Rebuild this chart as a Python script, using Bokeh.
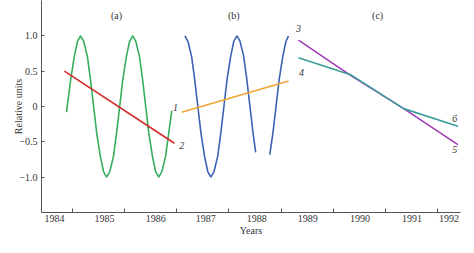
import numpy as np
from bokeh.plotting import figure
from bokeh.models import FixedTicker, CustomJSTickFormatter, Range1d
from bokeh.core.properties import value
from bokeh.embed import file_html
from bokeh.resources import INLINE

# ---- data ----
green_x = [1984.23, 1984.31, 1984.38, 1984.44, 1984.50, 1984.56, 1984.63, 1984.69, 1984.75,
           1984.81, 1984.88, 1984.94, 1985.00, 1985.06, 1985.13, 1985.19, 1985.25, 1985.31,
           1985.38, 1985.44, 1985.50, 1985.56, 1985.63, 1985.69, 1985.75, 1985.81, 1985.88,
           1985.94, 1986.00, 1986.06, 1986.13, 1986.19, 1986.25]
green_y = [-0.08, 0.38, 0.71, 0.92, 1.00, 0.92, 0.71, 0.38, 0.00,
           -0.38, -0.71, -0.92, -1.00, -0.92, -0.71, -0.38, 0.00, 0.38,
           0.71, 0.92, 1.00, 0.92, 0.71, 0.38, 0.00, -0.38, -0.71,
           -0.92, -1.00, -0.92, -0.71, -0.38, -0.06]

red_x = [1984.19, 1986.30]
red_y = [0.50, -0.52]

blue_x = [1986.50, 1986.56, 1986.63, 1986.69, 1986.75, 1986.81, 1986.88, 1986.94, 1987.00,
          1987.06, 1987.13, 1987.19, 1987.25, 1987.31, 1987.38, 1987.44, 1987.50, 1987.56,
          1987.63, 1987.69, 1987.75, 1987.81, 1987.86, float("nan"),
          1988.13, 1988.19, 1988.25, 1988.31, 1988.38, 1988.44, 1988.49]
blue_y = [1.00, 0.92, 0.71, 0.38, 0.00, -0.38, -0.71, -0.92, -1.00,
          -0.92, -0.71, -0.38, 0.00, 0.38, 0.71, 0.92, 1.00, 0.92,
          0.71, 0.38, 0.00, -0.38, -0.65, float("nan"),
          -0.68, -0.38, 0.00, 0.38, 0.71, 0.92, 1.00]

orange_x = [1986.44, 1988.49]
orange_y = [-0.08, 0.36]

purple_x = [1988.68, 1989.68, 1990.70, 1991.74]
purple_y = [0.94, 0.44, -0.03, -0.54]

teal_x = [1988.68, 1989.68, 1990.70, 1991.74]
teal_y = [0.69, 0.45, -0.03, -0.28]

curve_labels = ["1", "2", "3", "4", "6", "5"]
curve_label_x = [1986.32, 1986.44, 1988.68, 1988.74, 1991.68, 1991.68]
curve_label_y = [-0.01, -0.55, 1.11, 0.48, -0.17, -0.61]

panel_labels = ["(a)", "(b)", "(c)"]
panel_label_x = [1985.19, 1987.44, 1990.20]
panel_label_y = [1.29, 1.29, 1.29]

year_labels = ["1984", "1985", "1986", "1987", "1988", "1989", "1990", "1991", "1992"]
year_label_pos = [1984.00, 1984.96, 1985.94, 1986.90, 1987.88, 1988.86, 1989.86, 1990.86, 1991.57]
year_tick_pos = [1984.35, 1985.35, 1986.34, 1987.34, 1988.36, 1989.36, 1990.35, 1991.35]

y_ticks = [-1.0, -0.5, 0.0, 0.5, 1.0]
y_tick_labels = ["\u22121.0", "\u22120.5", "0", "0.5", "1.0"]

# ---- figure ----
SERIF = "Liberation Serif"
TXT = "#333333"
p = figure(width=474, height=253, output_backend="svg", toolbar_location=None,
           x_range=Range1d(1983.75, 1991.79), y_range=Range1d(-1.5, 1.5),
           min_border_left=41, min_border_right=14, min_border_top=0, min_border_bottom=41)
p.outline_line_color = None
p.grid.visible = False
p.background_fill_color = "white"
p.border_fill_color = "white"

p.line(green_x, green_y, line_color="#35ad5c", line_width=1.6)
p.line(red_x, red_y, line_color="#d42a2a", line_width=1.6)
p.line(np.array(blue_x), np.array(blue_y), line_color="#3b62b3", line_width=1.6)
p.line(orange_x, orange_y, line_color="#f0a533", line_width=1.6)
p.line(purple_x, purple_y, line_color="#a23db5", line_width=1.6)
p.line(teal_x, teal_y, line_color="#3a9e9c", line_width=1.6)

p.text(x=curve_label_x, y=curve_label_y, text=curve_labels,
       text_font=value(SERIF), text_font_style="italic", text_font_size="10px",
       text_color=TXT, text_align="center", text_baseline="middle")
p.text(x=panel_label_x, y=panel_label_y, text=panel_labels,
       text_font=value(SERIF), text_font_size="10px",
       text_color=TXT, text_align="center", text_baseline="middle")

# x axis
xa = p.xaxis[0]
xa.ticker = FixedTicker(ticks=year_label_pos, minor_ticks=year_tick_pos)
xa.formatter = CustomJSTickFormatter(args=dict(labels=year_labels), code="return labels[index];")
xa.major_tick_in = 0
xa.major_tick_out = 0
xa.minor_tick_in = 4
xa.minor_tick_out = 0
xa.minor_tick_line_color = "#555555"
xa.axis_line_color = "#555555"
xa.major_label_standoff = 2
xa.major_label_text_font = SERIF
xa.major_label_text_font_size = "10px"
xa.major_label_text_color = TXT
xa.axis_label = "Years"
xa.axis_label_standoff = 0
xa.axis_label_text_font = SERIF
xa.axis_label_text_font_size = "10px"
xa.axis_label_text_font_style = "normal"
xa.axis_label_text_color = TXT

# y axis
ya = p.yaxis[0]
ya.ticker = FixedTicker(ticks=y_ticks)
ya.major_label_overrides = {t: l for t, l in zip(y_ticks, y_tick_labels)}
ya.major_tick_in = 3
ya.major_tick_out = 0
ya.minor_tick_line_color = None
ya.major_tick_line_color = "#555555"
ya.axis_line_color = "#555555"
ya.major_label_standoff = 4
ya.major_label_text_font = SERIF
ya.major_label_text_font_size = "10px"
ya.major_label_text_color = TXT
ya.axis_label = "Relative units"
ya.axis_label_standoff = -8
ya.axis_label_text_font = SERIF
ya.axis_label_text_font_size = "10px"
ya.axis_label_text_font_style = "normal"
ya.axis_label_text_color = TXT

open("out.html", "w").write(file_html(p, INLINE))
